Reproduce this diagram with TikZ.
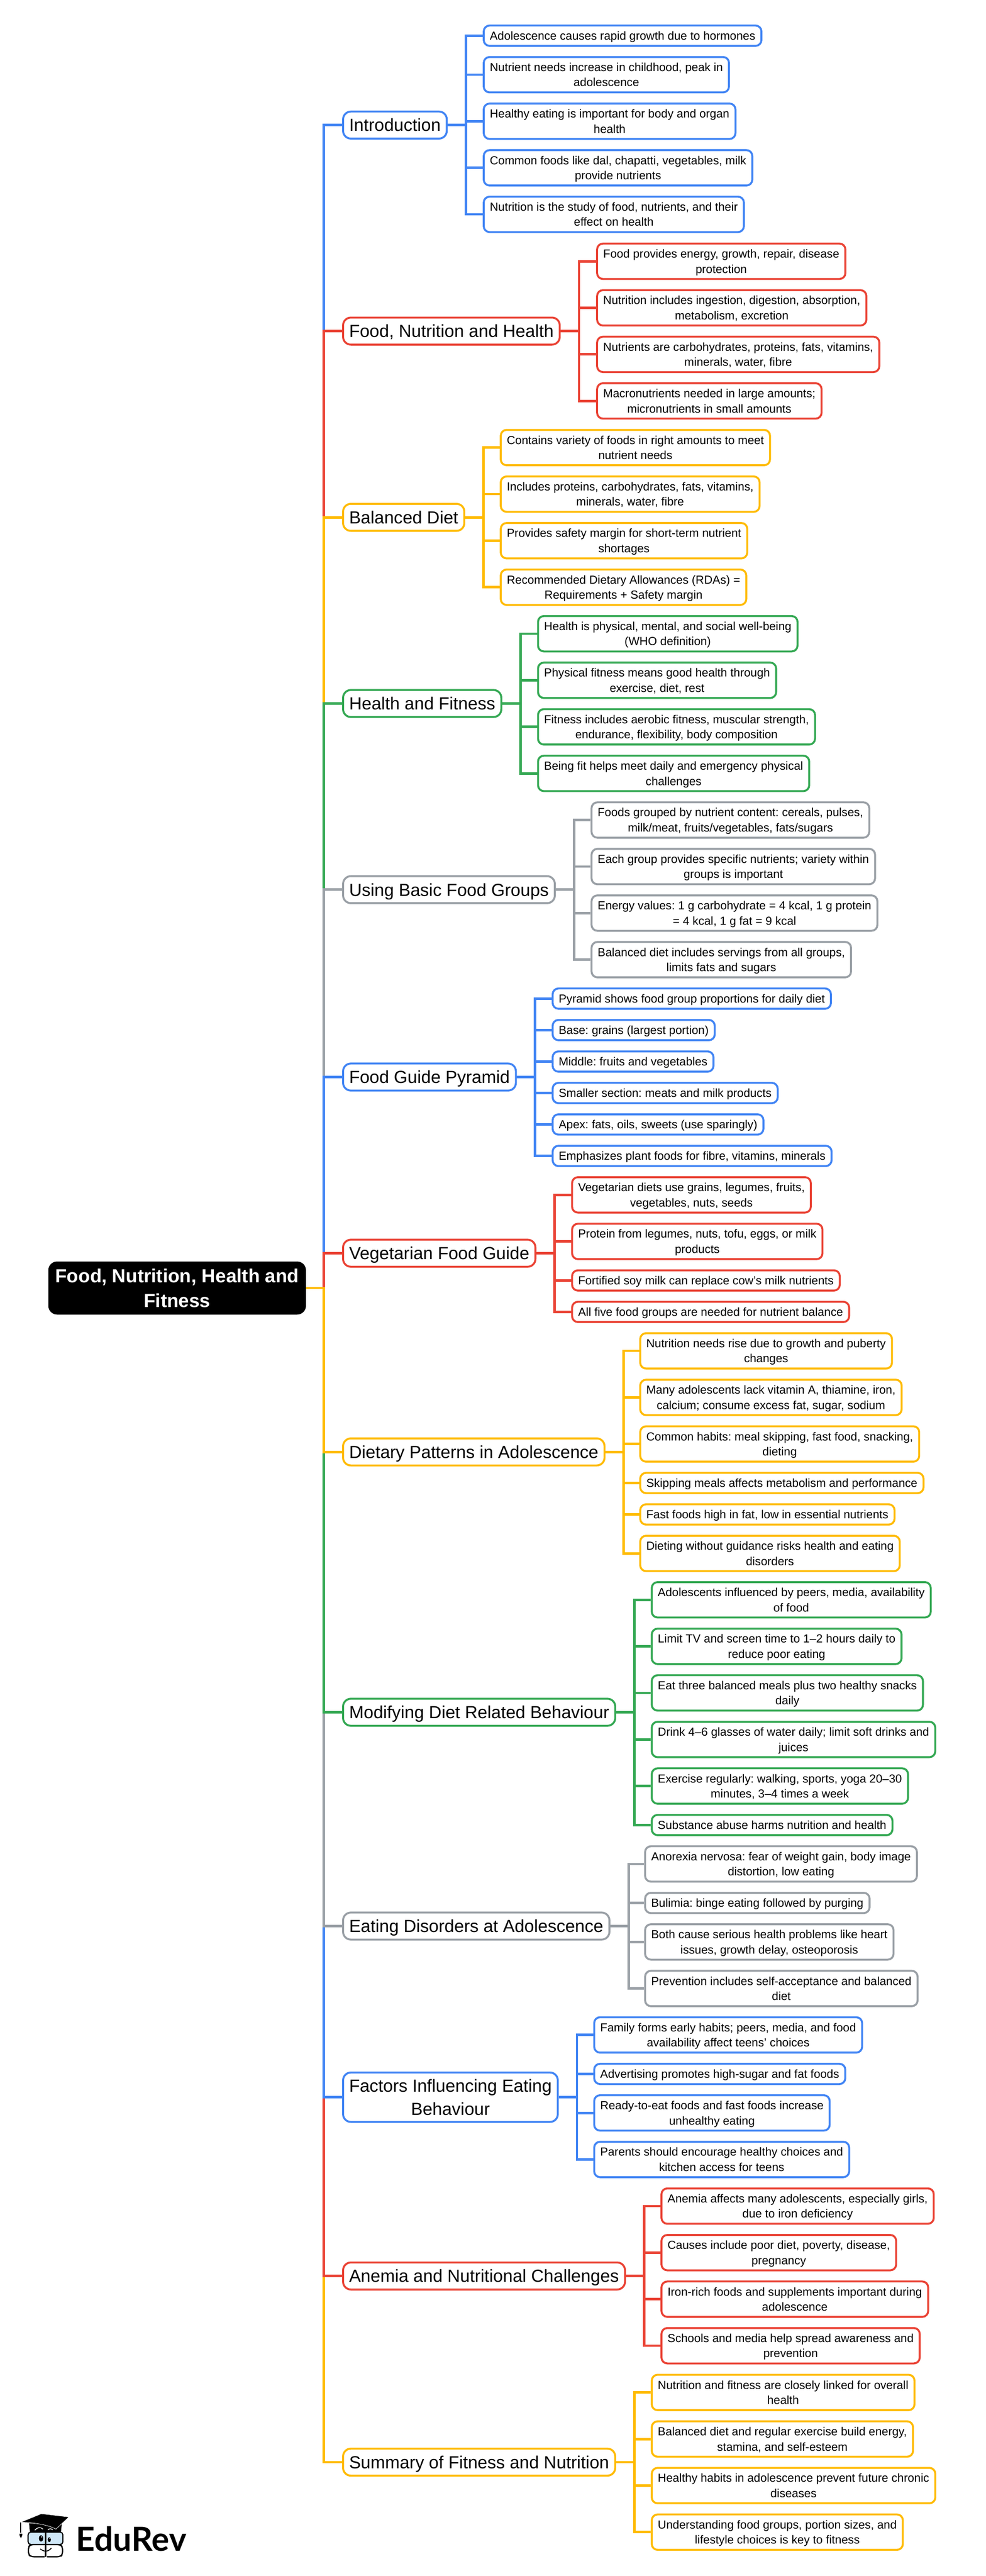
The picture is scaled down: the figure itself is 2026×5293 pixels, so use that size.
\documentclass[tikz,border=0pt]{standalone}
\usepackage{xcolor}
\usepackage{fontspec}
\setmainfont{Liberation Sans}
\newfontfamily\logofont{Lato}
\usepackage{tikz}
\usetikzlibrary{positioning}
\definecolor{mapblue}{RGB}{66,133,244}
\definecolor{mapred}{RGB}{234,67,53}
\definecolor{mapyellow}{RGB}{255,187,0}
\definecolor{mapgreen}{RGB}{52,168,83}
\definecolor{mapgray}{RGB}{154,160,166}
\definecolor{logoblue}{RGB}{208,232,248}

\begin{document}
\frenchspacing
\begin{tikzpicture}[
    x=1pt, y=-1pt,
    rootbox/.style={rectangle, fill=black, text=white, rounded corners=18pt, align=center, font=\fontsize{39}{50.7}\selectfont\bfseries, inner xsep=14.5pt, inner ysep=0pt, minimum height=109pt, text height=87.7pt, text depth=9pt},
    topicbox/.style={rectangle, draw, line width=4pt, rounded corners=16pt, align=center, font=\fontsize{36}{46.8}\selectfont, inner xsep=12.5pt, inner ysep=0pt, text depth=8pt, anchor=west},
    topicone/.style={topicbox, minimum height=55.5pt, text height=33.8pt},
    topictwo/.style={topicbox, minimum height=101.5pt, text height=80.6pt},
    leafbox/.style={rectangle, draw, line width=4pt, rounded corners=12pt, align=center, font=\fontsize{24}{31.25}\selectfont, inner xsep=12.5pt, inner ysep=0pt, text depth=5pt},
    leafone/.style={leafbox, minimum height=41.7pt, text height=22.2pt},
    leaftwo/.style={leafbox, minimum height=72.7pt, text height=53.45pt},
    link/.style={line width=5pt},
    elbow/.style={to path={-- ++(37.5,0) |- (\tikztotarget)}}
]
\useasboundingbox (0,0) rectangle (2026,5293);
\coordinate (spine) at (665,2646.5);

% Root
\node[rootbox] (root) at (364,2646.5) {Food, Nutrition, Health and\\Fitness};

% Introduction
\node[topicone, draw=mapblue] (t1) at (703,257) {Introduction};
\node[leafone, draw=mapblue, anchor=north west] (l1a) at (992,50.5) {Adolescence causes rapid growth due to hormones};
\node[leaftwo, draw=mapblue, below=18.95pt of l1a.south west, anchor=north west] (l1b) {Nutrient needs increase in childhood, peak in\\adolescence};
\node[leaftwo, draw=mapblue, below=18.95pt of l1b.south west, anchor=north west] (l1c) {Healthy eating is important for body and organ\\health};
\node[leaftwo, draw=mapblue, below=18.95pt of l1c.south west, anchor=north west] (l1d) {Common foods like dal, chapatti, vegetables, milk\\provide nutrients};
\node[leaftwo, draw=mapblue, below=18.95pt of l1d.south west, anchor=north west] (l1e) {Nutrition is the study of food, nutrients, and their\\effect on health};

% Food, Nutrition and Health
\node[topicone, draw=mapred] (t2) at (703,680.3) {Food, Nutrition and Health};
\node[leaftwo, draw=mapred, anchor=north west] (l2a) at (1225,498.5) {Food provides energy, growth, repair, disease\\protection};
\node[leaftwo, draw=mapred, below=18.95pt of l2a.south west, anchor=north west] (l2b) {Nutrition includes ingestion, digestion, absorption,\\metabolism, excretion};
\node[leaftwo, draw=mapred, below=18.95pt of l2b.south west, anchor=north west] (l2c) {Nutrients are carbohydrates, proteins, fats, vitamins,\\minerals, water, fibre};
\node[leaftwo, draw=mapred, below=18.95pt of l2c.south west, anchor=north west] (l2d) {Macronutrients needed in large amounts;\\micronutrients in small amounts};

% Balanced Diet
\node[topicone, draw=mapyellow] (t3) at (703,1063) {Balanced Diet};
\node[leaftwo, draw=mapyellow, anchor=north west] (l3a) at (1027,881.3) {Contains variety of foods in right amounts to meet\\nutrient needs};
\node[leaftwo, draw=mapyellow, below=18.95pt of l3a.south west, anchor=north west] (l3b) {Includes proteins, carbohydrates, fats, vitamins,\\minerals, water, fibre};
\node[leaftwo, draw=mapyellow, below=18.95pt of l3b.south west, anchor=north west] (l3c) {Provides safety margin for short-term nutrient\\shortages};
\node[leaftwo, draw=mapyellow, below=18.95pt of l3c.south west, anchor=north west] (l3d) {Recommended Dietary Allowances (RDAs) =\\Requirements + Safety margin};

% Health and Fitness
\node[topicone, draw=mapgreen] (t4) at (703,1445.5) {Health and Fitness};
\node[leaftwo, draw=mapgreen, anchor=north west] (l4a) at (1103.6,1263.8) {Health is physical, mental, and social well-being\\(WHO definition)};
\node[leaftwo, draw=mapgreen, below=18.95pt of l4a.south west, anchor=north west] (l4b) {Physical fitness means good health through\\exercise, diet, rest};
\node[leaftwo, draw=mapgreen, below=18.95pt of l4b.south west, anchor=north west] (l4c) {Fitness includes aerobic fitness, muscular strength,\\endurance, flexibility, body composition};
\node[leaftwo, draw=mapgreen, below=18.95pt of l4c.south west, anchor=north west] (l4d) {Being fit helps meet daily and emergency physical\\challenges};

% Using Basic Food Groups
\node[topicone, draw=mapgray] (t5) at (703,1828) {Using Basic Food Groups};
\node[leaftwo, draw=mapgray, anchor=north west] (l5a) at (1213.6,1646.5) {Foods grouped by nutrient content: cereals, pulses,\\milk/meat, fruits/vegetables, fats/sugars};
\node[leaftwo, draw=mapgray, below=18.95pt of l5a.south west, anchor=north west] (l5b) {Each group provides specific nutrients; variety within\\groups is important};
\node[leaftwo, draw=mapgray, below=18.95pt of l5b.south west, anchor=north west] (l5c) {Energy values: 1 g carbohydrate = 4 kcal, 1 g protein\\= 4 kcal, 1 g fat = 9 kcal};
\node[leaftwo, draw=mapgray, below=18.95pt of l5c.south west, anchor=north west] (l5d) {Balanced diet includes servings from all groups,\\limits fats and sugars};

% Food Guide Pyramid
\node[topicone, draw=mapblue] (t6) at (703,2213) {Food Guide Pyramid};
\node[leafone, draw=mapblue, anchor=north west] (l6a) at (1133.6,2029) {Pyramid shows food group proportions for daily diet};
\node[leafone, draw=mapblue, below=18.95pt of l6a.south west, anchor=north west] (l6b) {Base: grains (largest portion)};
\node[leafone, draw=mapblue, below=18.95pt of l6b.south west, anchor=north west] (l6c) {Middle: fruits and vegetables};
\node[leafone, draw=mapblue, below=18.95pt of l6c.south west, anchor=north west] (l6d) {Smaller section: meats and milk products};
\node[leafone, draw=mapblue, below=18.95pt of l6d.south west, anchor=north west] (l6e) {Apex: fats, oils, sweets (use sparingly)};
\node[leafone, draw=mapblue, below=18.95pt of l6e.south west, anchor=north west] (l6f) {Emphasizes plant foods for fibre, vitamins, minerals};

% Vegetarian Food Guide
\node[topicone, draw=mapred] (t7) at (703,2575) {Vegetarian Food Guide};
\node[leaftwo, draw=mapred, anchor=north west] (l7a) at (1173.6,2416.8) {Vegetarian diets use grains, legumes, fruits,\\vegetables, nuts, seeds};
\node[leaftwo, draw=mapred, below=18.95pt of l7a.south west, anchor=north west] (l7b) {Protein from legumes, nuts, tofu, eggs, or milk\\products};
\node[leafone, draw=mapred, below=18.95pt of l7b.south west, anchor=north west] (l7c) {Fortified soy milk can replace cow’s milk nutrients};
\node[leafone, draw=mapred, below=18.95pt of l7c.south west, anchor=north west] (l7d) {All five food groups are needed for nutrient balance};

% Dietary Patterns in Adolescence
\node[topicone, draw=mapyellow] (t8) at (703,2983.3) {Dietary Patterns in Adolescence};
\node[leaftwo, draw=mapyellow, anchor=north west] (l8a) at (1313.6,2737.3) {Nutrition needs rise due to growth and puberty\\changes};
\node[leaftwo, draw=mapyellow, below=18.95pt of l8a.south west, anchor=north west] (l8b) {Many adolescents lack vitamin A, thiamine, iron,\\calcium; consume excess fat, sugar, sodium};
\node[leaftwo, draw=mapyellow, below=18.95pt of l8b.south west, anchor=north west] (l8c) {Common habits: meal skipping, fast food, snacking,\\dieting};
\node[leafone, draw=mapyellow, below=18.95pt of l8c.south west, anchor=north west] (l8d) {Skipping meals affects metabolism and performance};
\node[leafone, draw=mapyellow, below=18.95pt of l8d.south west, anchor=north west] (l8e) {Fast foods high in fat, low in essential nutrients};
\node[leaftwo, draw=mapyellow, below=18.95pt of l8e.south west, anchor=north west] (l8f) {Dieting without guidance risks health and eating\\disorders};

% Modifying Diet Related Behaviour
\node[topicone, draw=mapgreen] (t9) at (703,3518.2) {Modifying Diet Related Behaviour};
\node[leaftwo, draw=mapgreen, anchor=north west] (l9a) at (1337.3,3248.8) {Adolescents influenced by peers, media, availability\\of food};
\node[leaftwo, draw=mapgreen, below=18.95pt of l9a.south west, anchor=north west] (l9b) {Limit TV and screen time to 1–2 hours daily to\\reduce poor eating};
\node[leaftwo, draw=mapgreen, below=18.95pt of l9b.south west, anchor=north west] (l9c) {Eat three balanced meals plus two healthy snacks\\daily};
\node[leaftwo, draw=mapgreen, below=18.95pt of l9c.south west, anchor=north west] (l9d) {Drink 4–6 glasses of water daily; limit soft drinks and\\juices};
\node[leaftwo, draw=mapgreen, below=18.95pt of l9d.south west, anchor=north west] (l9e) {Exercise regularly: walking, sports, yoga 20–30\\minutes, 3–4 times a week};
\node[leafone, draw=mapgreen, below=18.95pt of l9e.south west, anchor=north west] (l9f) {Substance abuse harms nutrition and health};

% Eating Disorders at Adolescence
\node[topicone, draw=mapgray] (t10) at (703,3957.5) {Eating Disorders at Adolescence};
\node[leaftwo, draw=mapgray, anchor=north west] (l10a) at (1323.6,3791.5) {Anorexia nervosa: fear of weight gain, body image\\distortion, low eating};
\node[leafone, draw=mapgray, below=18.95pt of l10a.south west, anchor=north west] (l10b) {Bulimia: binge eating followed by purging};
\node[leaftwo, draw=mapgray, below=18.95pt of l10b.south west, anchor=north west] (l10c) {Both cause serious health problems like heart\\issues, growth delay, osteoporosis};
\node[leaftwo, draw=mapgray, below=18.95pt of l10c.south west, anchor=north west] (l10d) {Prevention includes self-acceptance and balanced\\diet};

% Factors Influencing Eating Behaviour
\node[topictwo, draw=mapblue] (t11) at (703,4309.2) {Factors Influencing Eating\\Behaviour};
\node[leaftwo, draw=mapblue, anchor=north west] (l11a) at (1219,4142.8) {Family forms early habits; peers, media, and food\\availability affect teens’ choices};
\node[leafone, draw=mapblue, below=18.95pt of l11a.south west, anchor=north west] (l11b) {Advertising promotes high-sugar and fat foods};
\node[leaftwo, draw=mapblue, below=18.95pt of l11b.south west, anchor=north west] (l11c) {Ready-to-eat foods and fast foods increase\\unhealthy eating};
\node[leaftwo, draw=mapblue, below=18.95pt of l11c.south west, anchor=north west] (l11d) {Parents should encourage healthy choices and\\kitchen access for teens};

% Anemia and Nutritional Challenges
\node[topicone, draw=mapred] (t12) at (703,4676.5) {Anemia and Nutritional Challenges};
\node[leaftwo, draw=mapred, anchor=north west] (l12a) at (1357.3,4494.5) {Anemia affects many adolescents, especially girls,\\due to iron deficiency};
\node[leaftwo, draw=mapred, below=18.95pt of l12a.south west, anchor=north west] (l12b) {Causes include poor diet, poverty, disease,\\pregnancy};
\node[leaftwo, draw=mapred, below=18.95pt of l12b.south west, anchor=north west] (l12c) {Iron-rich foods and supplements important during\\adolescence};
\node[leaftwo, draw=mapred, below=18.95pt of l12c.south west, anchor=north west] (l12d) {Schools and media help spread awareness and\\prevention};

% Summary of Fitness and Nutrition
\node[topicone, draw=mapyellow] (t13) at (703,5059) {Summary of Fitness and Nutrition};
\node[leaftwo, draw=mapyellow, anchor=north west] (l13a) at (1337.3,4877.5) {Nutrition and fitness are closely linked for overall\\health};
\node[leaftwo, draw=mapyellow, below=18.95pt of l13a.south west, anchor=north west] (l13b) {Balanced diet and regular exercise build energy,\\stamina, and self-esteem};
\node[leaftwo, draw=mapyellow, below=18.95pt of l13b.south west, anchor=north west] (l13c) {Healthy habits in adolescence prevent future chronic\\diseases};
\node[leaftwo, draw=mapyellow, below=18.95pt of l13c.south west, anchor=north west] (l13d) {Understanding food groups, portion sizes, and\\lifestyle choices is key to fitness};

% Root to topics
\draw[link, mapblue] (root.east) -- (spine) |- (t1.west);
\draw[link, mapred] (root.east) -- (spine) |- (t2.west);
\draw[link, mapyellow] (root.east) -- (spine) |- (t3.west);
\draw[link, mapgreen] (root.east) -- (spine) |- (t4.west);
\draw[link, mapgray] (root.east) -- (spine) |- (t5.west);
\draw[link, mapblue] (root.east) -- (spine) |- (t6.west);
\draw[link, mapred] (root.east) -- (spine) |- (t7.west);
\draw[link, mapyellow] (root.east) -- (spine) |- (t13.west);
\draw[link, mapred] (root.east) -- (spine) |- (t12.west);
\draw[link, mapblue] (root.east) -- (spine) |- (t11.west);
\draw[link, mapgray] (root.east) -- (spine) |- (t10.west);
\draw[link, mapgreen] (root.east) -- (spine) |- (t9.west);
\draw[link, mapyellow] (root.east) -- (spine) |- (t8.west);

% Topics to leaves
\draw[link, mapblue] (t1.east) to[elbow] (l1a.west);
\draw[link, mapblue] (t1.east) to[elbow] (l1b.west);
\draw[link, mapblue] (t1.east) to[elbow] (l1c.west);
\draw[link, mapblue] (t1.east) to[elbow] (l1d.west);
\draw[link, mapblue] (t1.east) to[elbow] (l1e.west);
\draw[link, mapred] (t2.east) to[elbow] (l2a.west);
\draw[link, mapred] (t2.east) to[elbow] (l2b.west);
\draw[link, mapred] (t2.east) to[elbow] (l2c.west);
\draw[link, mapred] (t2.east) to[elbow] (l2d.west);
\draw[link, mapyellow] (t3.east) to[elbow] (l3a.west);
\draw[link, mapyellow] (t3.east) to[elbow] (l3b.west);
\draw[link, mapyellow] (t3.east) to[elbow] (l3c.west);
\draw[link, mapyellow] (t3.east) to[elbow] (l3d.west);
\draw[link, mapgreen] (t4.east) to[elbow] (l4a.west);
\draw[link, mapgreen] (t4.east) to[elbow] (l4b.west);
\draw[link, mapgreen] (t4.east) to[elbow] (l4c.west);
\draw[link, mapgreen] (t4.east) to[elbow] (l4d.west);
\draw[link, mapgray] (t5.east) to[elbow] (l5a.west);
\draw[link, mapgray] (t5.east) to[elbow] (l5b.west);
\draw[link, mapgray] (t5.east) to[elbow] (l5c.west);
\draw[link, mapgray] (t5.east) to[elbow] (l5d.west);
\draw[link, mapblue] (t6.east) to[elbow] (l6a.west);
\draw[link, mapblue] (t6.east) to[elbow] (l6b.west);
\draw[link, mapblue] (t6.east) to[elbow] (l6c.west);
\draw[link, mapblue] (t6.east) to[elbow] (l6d.west);
\draw[link, mapblue] (t6.east) to[elbow] (l6e.west);
\draw[link, mapblue] (t6.east) to[elbow] (l6f.west);
\draw[link, mapred] (t7.east) to[elbow] (l7a.west);
\draw[link, mapred] (t7.east) to[elbow] (l7b.west);
\draw[link, mapred] (t7.east) to[elbow] (l7c.west);
\draw[link, mapred] (t7.east) to[elbow] (l7d.west);
\draw[link, mapyellow] (t8.east) to[elbow] (l8a.west);
\draw[link, mapyellow] (t8.east) to[elbow] (l8b.west);
\draw[link, mapyellow] (t8.east) to[elbow] (l8c.west);
\draw[link, mapyellow] (t8.east) to[elbow] (l8d.west);
\draw[link, mapyellow] (t8.east) to[elbow] (l8e.west);
\draw[link, mapyellow] (t8.east) to[elbow] (l8f.west);
\draw[link, mapgreen] (t9.east) to[elbow] (l9a.west);
\draw[link, mapgreen] (t9.east) to[elbow] (l9b.west);
\draw[link, mapgreen] (t9.east) to[elbow] (l9c.west);
\draw[link, mapgreen] (t9.east) to[elbow] (l9d.west);
\draw[link, mapgreen] (t9.east) to[elbow] (l9e.west);
\draw[link, mapgreen] (t9.east) to[elbow] (l9f.west);
\draw[link, mapgray] (t10.east) to[elbow] (l10a.west);
\draw[link, mapgray] (t10.east) to[elbow] (l10b.west);
\draw[link, mapgray] (t10.east) to[elbow] (l10c.west);
\draw[link, mapgray] (t10.east) to[elbow] (l10d.west);
\draw[link, mapblue] (t11.east) to[elbow] (l11a.west);
\draw[link, mapblue] (t11.east) to[elbow] (l11b.west);
\draw[link, mapblue] (t11.east) to[elbow] (l11c.west);
\draw[link, mapblue] (t11.east) to[elbow] (l11d.west);
\draw[link, mapred] (t12.east) to[elbow] (l12a.west);
\draw[link, mapred] (t12.east) to[elbow] (l12b.west);
\draw[link, mapred] (t12.east) to[elbow] (l12c.west);
\draw[link, mapred] (t12.east) to[elbow] (l12d.west);
\draw[link, mapyellow] (t13.east) to[elbow] (l13a.west);
\draw[link, mapyellow] (t13.east) to[elbow] (l13b.west);
\draw[link, mapyellow] (t13.east) to[elbow] (l13c.west);
\draw[link, mapyellow] (t13.east) to[elbow] (l13d.west);

% Logo
\node[anchor=west, inner sep=0pt, font=\fontsize{68}{68}\selectfont\logofont\bfseries] (logotext) at (156,5217) {EduRev};
\begin{scope}[shift={(20,5150)}, x=0.3333pt, y=-0.3333pt]
\filldraw[line width=0.5pt] (120,105) -- (320,110) -- (315,155) -- (125,155) -- cycle;
\filldraw[fill=logoblue, line width=2.2pt, rounded corners=6pt] (113,158) rectangle (328,235);
\draw[line width=2.5pt, rounded corners=6pt] (215,235) -- (128,235) -- (115,250) -- (115,295) -- (130,310) -- (215,310);
\draw[line width=2.5pt, rounded corners=6pt] (230,310) -- (312,310) -- (326,295) -- (326,250) -- (312,235) -- (230,235);
\draw[line width=2.5pt] (221,152) -- (221,312);
\fill (193,197) ellipse (13 and 20);
\fill (244,205) ellipse (10 and 15);
\fill[white] (197,188) circle (4);
\fill[white] (247,198) circle (3);
\draw[line width=1.8pt] (188,262) .. controls (215,282) and (235,280) .. (257,257);
\draw[white, line width=1.5pt] (155,147) .. controls (170,128) and (190,125) .. (205,140);
\draw[white, line width=1.5pt] (235,145) .. controls (245,135) and (255,135) .. (265,145);
\filldraw[draw=white, line width=0.8pt] (68,97) -- (195,45) -- (365,65) -- (285,140) .. controls (240,115) and (160,100) .. (68,97) -- cycle;
\draw[line width=2pt] (68,97) -- (68,162);
\fill (60,168) -- (78,168) .. controls (78,180) and (74,188) .. (69,196) .. controls (64,188) and (60,180) .. (60,168) -- cycle;
\end{scope}

\end{tikzpicture}
\end{document}
